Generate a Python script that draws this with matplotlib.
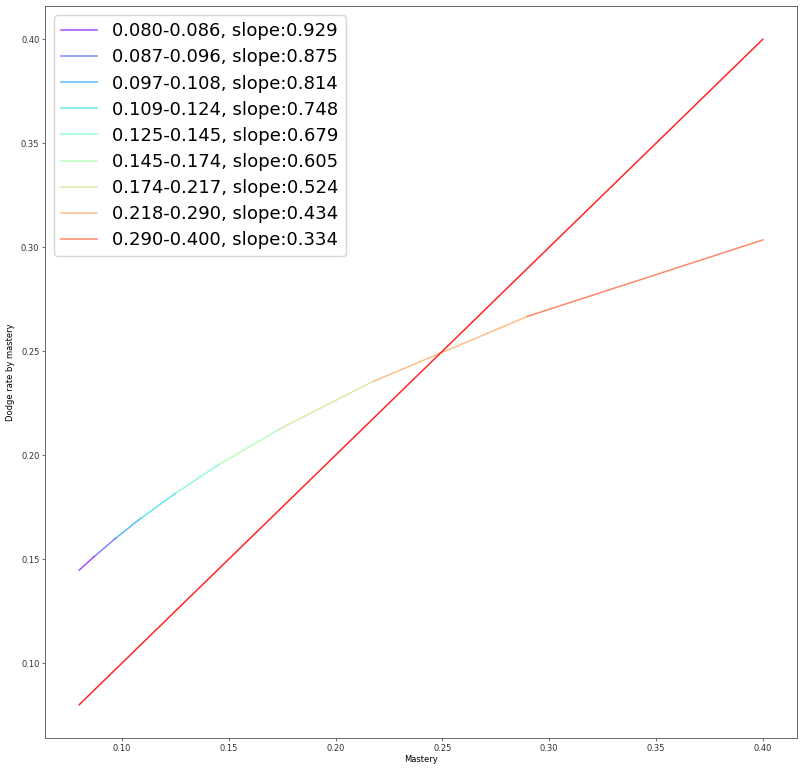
import matplotlib
matplotlib.use("Agg")
import matplotlib.pyplot as plt
import numpy as np

# Segment boundaries (mastery) and dodge rate at each boundary
seg_start = [0.080, 0.087, 0.097, 0.109, 0.125, 0.145, 0.174, 0.218, 0.290]
seg_end = [0.086, 0.096, 0.108, 0.124, 0.145, 0.174, 0.217, 0.290, 0.400]
y_start = [0.1447, 0.1512, 0.1600, 0.1697, 0.1816, 0.1952, 0.2127, 0.2356, 0.2668]
y_end = [0.1503, 0.1591, 0.1690, 0.1809, 0.1952, 0.2127, 0.2352, 0.2668, 0.3035]
slopes = [0.929, 0.875, 0.814, 0.748, 0.679, 0.605, 0.524, 0.434, 0.334]

# Reference line y = x
ref_x = [0.08, 0.40]
ref_y = [0.08, 0.40]

fig = plt.figure(figsize=(8, 7.68), dpi=100)
ax = fig.add_axes([45 / 800, 1 - 738 / 768, 752 / 800, 732 / 768])

n = len(seg_start)
colors = plt.cm.rainbow(np.linspace(0, 1, n + 1))[:n]
for i in range(n):
    # join each segment to the start of the next so the curve is continuous
    if i < n - 1:
        xs = [seg_start[i], seg_end[i], seg_start[i + 1]]
        ys = [y_start[i], y_end[i], y_start[i + 1]]
    else:
        xs = [seg_start[i], seg_end[i]]
        ys = [y_start[i], y_end[i]]
    ax.plot(xs, ys, color=colors[i], alpha=0.7, lw=1.1,
            label=f"{seg_start[i]:.3f}-{seg_end[i]:.3f}, slope:{slopes[i]:.3f}")
ax.plot(ref_x, ref_y, color="red", lw=1.1, alpha=0.85)

ax.set_xticks([0.10, 0.15, 0.20, 0.25, 0.30, 0.35, 0.40])
ax.set_yticks([0.10, 0.15, 0.20, 0.25, 0.30, 0.35, 0.40])
ax.tick_params(labelsize=6, length=2, width=0.5, pad=2, colors="#333333")
for s in ax.spines.values():
    s.set_linewidth(0.6)
    s.set_color("#555555")
ax.set_xlabel("Mastery", fontsize=6, labelpad=2)
ax.set_ylabel("Dodge rate by mastery", fontsize=6, labelpad=4)
ax.legend(loc="upper left", fontsize=13, handlelength=2.0, labelspacing=0.45,
          borderpad=0.4, framealpha=0.8)

fig.savefig("out.png", dpi=100)
